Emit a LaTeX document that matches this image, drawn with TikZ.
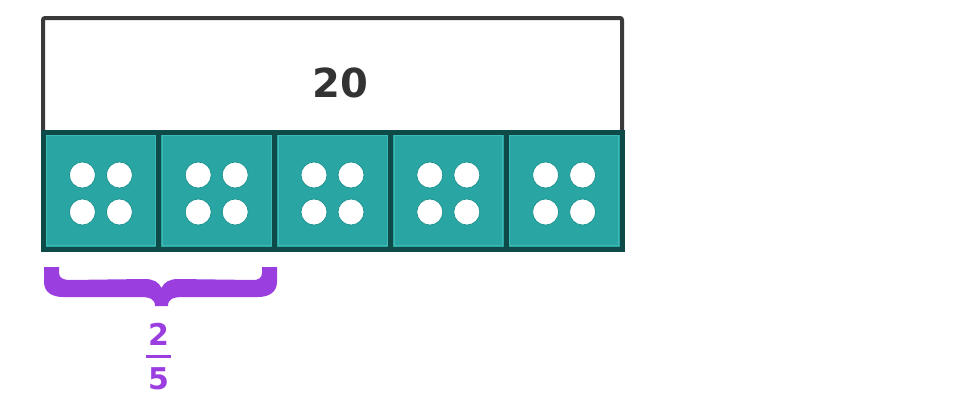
\documentclass[tikz,border=0pt]{standalone}
\usepackage{fontspec}
\setmainfont{DejaVu Sans}
\definecolor{boxgray}{HTML}{3A3A3A}
\definecolor{txtgray}{HTML}{333333}
\definecolor{tealfill}{HTML}{29A5A3}
\definecolor{tealdark}{HTML}{0E4A48}
\definecolor{teallight}{HTML}{3EBAB6}
\definecolor{dotline}{HTML}{17908D}
\definecolor{purp}{HTML}{9A3EE0}
\tikzset{
  totalbox/.style={draw=boxgray, fill=white, line width=4pt, rounded corners=2pt},
  cellbox/.style={draw=tealdark, fill=tealfill, line width=5pt, minimum width=115.8pt, minimum height=117pt, inner sep=0pt, outer sep=0pt},
  dot/.style={circle, fill=white, draw=dotline, line width=0.7pt, minimum size=26pt, inner sep=0pt},
  bigtxt/.style={font=\bfseries\fontsize{40}{48}\selectfont, text=txtgray, inner sep=0pt},
  fractxt/.style={font=\bfseries\fontsize{30}{36}\selectfont, text=purp, inner sep=0pt},
}
\begin{document}
\begin{tikzpicture}[x=1pt, y=-1pt]
\useasboundingbox (0,0) rectangle (976,400);
% top box
\node[totalbox, minimum width=579pt, minimum height=114pt, inner sep=0pt] (total) at (332.5,75) {};
\node[bigtxt] (lbl) at (340,82.5) {20};
% cells
\foreach \i in {1,...,5}{
  \pgfmathsetmacro{\cx}{43+115.8*(\i-0.5)}
  \node[cellbox] (c\i) at (\cx,190.5) {};
  \draw[teallight, line width=0.8pt] ([xshift=3.5pt,yshift=-3.5pt]c\i.north west) rectangle ([xshift=-3.5pt,yshift=3.5pt]c\i.south east);
  \node[dot] (d\i a) at ([xshift=-18.5pt,yshift=15.5pt]c\i.center) {};
  \node[dot] (d\i b) at ([xshift=18.5pt,yshift=15.5pt]c\i.center) {};
  \node[dot] (d\i c) at ([xshift=-18.5pt,yshift=-21.5pt]c\i.center) {};
  \node[dot] (d\i d) at ([xshift=18.5pt,yshift=-21.5pt]c\i.center) {};
}
% brace
\fill[purp] (44,267) -- (44,282) .. controls (44,292) and (52,297) .. (63,297) -- (140,297) .. controls (150,297) and (155,299) .. (155,306) -- (168,306) .. controls (168,299) and (173,297) .. (183,297) -- (258,297) .. controls (269,297) and (277,292) .. (277,282) -- (277,267) -- (262,267) -- (262,273) .. controls (262,278) and (258,280) .. (254,280) -- (178,279) .. controls (170,279) and (164,282) .. (161.5,288) .. controls (159,282) and (153,279) .. (145,279) -- (69,280) .. controls (64,280) and (59,278) .. (59,273) -- (59,267) -- cycle;
% fraction
\node[fractxt] (num) at (158.5,334) {2};
\node[fractxt] (den) at (158.5,378.5) {5};
\coordinate (barl) at (146,356);
\coordinate (barr) at (171,356);
\draw[purp, line width=3pt] (barl) -- (barr);
\end{tikzpicture}
\end{document}
